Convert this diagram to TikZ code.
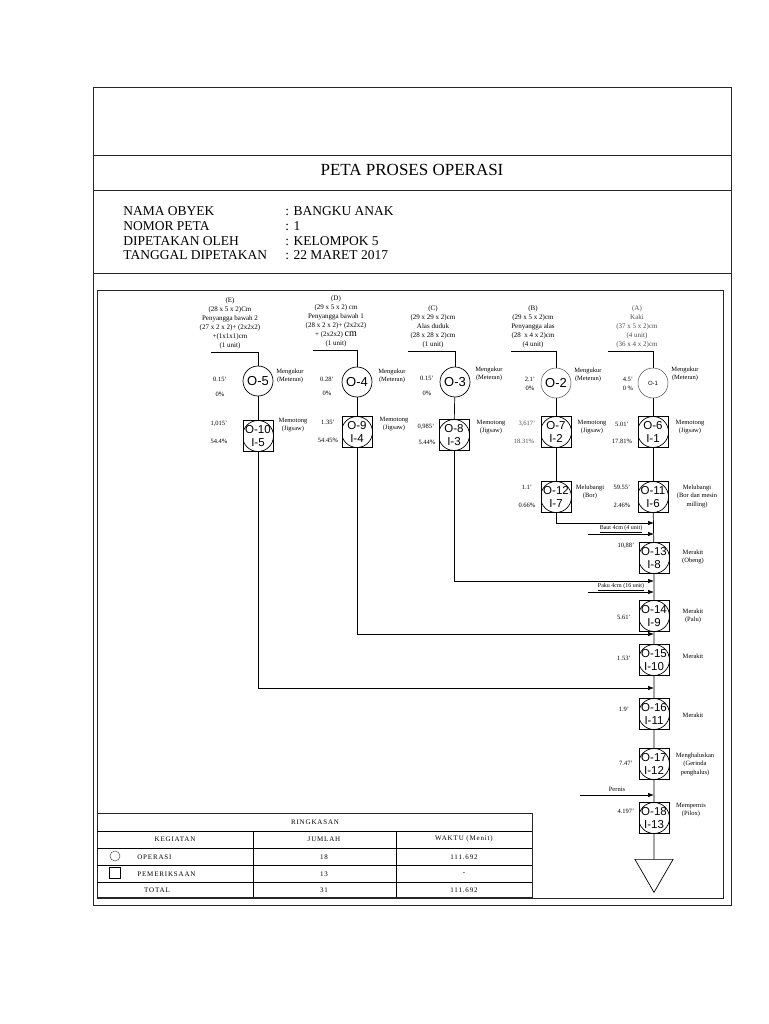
\documentclass[tikz,border=0pt]{standalone}
\usepackage{fontspec}
\setmainfont{Liberation Serif}
\newfontfamily\arialfont{Liberation Sans}
\usetikzlibrary{arrows.meta, positioning, shapes.geometric}

\tikzset{
  frame/.style={line width=0.9pt, black!85},
  opc/.style={circle, draw, minimum size=30pt, inner sep=0pt, font=\arialfont\fontsize{13}{13}\selectfont},
  opbox/.style={rectangle, draw, minimum width=30pt, minimum height=31pt, inner sep=0pt, align=center,
    font=\arialfont\fontsize{11.5}{13}\selectfont,
    path picture={\draw (path picture bounding box.center) circle (15.5pt);}},
  lbl/.style={font=\fontsize{6.5}{8.5}\selectfont, align=center, inner sep=0pt},
  colhead/.style={font=\fontsize{7}{9}\selectfont, align=center, inner sep=0pt},
  headtxt/.style={font=\fontsize{13.5}{15}\selectfont, inner sep=0pt},
  tbl/.style={font=\fontsize{7}{8}\selectfont\addfontfeature{LetterSpace=12}, inner sep=0pt},
  flow/.style={-{Latex[length=6pt,width=4.5pt]}},
  store/.style={draw, regular polygon, regular polygon sides=3, shape border rotate=180, minimum size=44pt, inner sep=0pt},
}

\begin{document}
\begin{tikzpicture}[x=1pt, y=-1pt, line width=0.7pt]
  \useasboundingbox (0,0) rectangle (768,1024);
  % bingkai
  \draw[frame] (93,87) rectangle (731,905);
  \draw[frame] (93,155) -- (731,155);
  \draw[frame] (93,190) -- (731,190);
  \draw[frame] (93,273) -- (731,273);
  \draw[frame] (97,290) rectangle (723,898);

  % judul dan identitas peta
  \node[font=\fontsize{17}{19}\selectfont] (judul) at (412,170) {PETA PROSES OPERASI};
  \node[headtxt, anchor=base west] (k1) at (123,215) {NAMA OBYEK};
  \node[headtxt, anchor=base west] (k2) at (123,230) {NOMOR PETA};
  \node[headtxt, anchor=base west] (k3) at (123,245) {DIPETAKAN OLEH};
  \node[headtxt, anchor=base west] (k4) at (123,259) {TANGGAL DIPETAKAN};
  \node[headtxt, anchor=base west] (v1) at (285,215) {: BANGKU ANAK};
  \node[headtxt, anchor=base west] (v2) at (285,230) {: 1};
  \node[headtxt, anchor=base west] (v3) at (285,245) {: KELOMPOK 5};
  \node[headtxt, anchor=base west] (v4) at (285,259) {: 22 MARET 2017};

  % keterangan bahan
  \node[colhead, anchor=south] (hE) at (230,349) {(E)\\(28 x 5 x 2)Cm\\Penyangga bawah 2\\(27 x 2 x 2)+ (2x2x2)\\+(1x1x1)cm\\(1 unit)};
  \node[colhead, anchor=south] (hD) at (336,347) {(D)\\(29 x 5 x 2) cm\\Penyangga bawah 1\\(28 x 2 x 2)+ (2x2x2)\\+ (2x2x2) {\fontsize{10}{9}\selectfont cm}\\(1 unit)};
  \node[colhead, anchor=south] (hC) at (433,348) {(C)\\(29 x 29 x 2)cm\\Alas duduk\\(28 x 28 x 2)cm\\(1 unit)};
  \node[colhead, anchor=south] (hB) at (533,348) {(B)\\(29 x 5 x 2)cm\\Penyangga alas\\(28\enspace x 4 x 2)cm\\(4 unit)};
  \node[colhead, anchor=south, black!70] (hA) at (637,348) {(A)\\Kaki\\(37 x 5 x 2)cm\\(4 unit)\\(36 x 4 x 2)cm};
  \coordinate (eS) at (211,352);
  \coordinate (dS) at (313,350);
  \coordinate (cS) at (408,351);
  \coordinate (bS) at (511,351);
  \coordinate (aS) at (608,351);

  % operasi mengukur
  \node[opc] (o5) at (258,381) {O-5};
  \node[opc] (o4) at (357,382) {O-4};
  \node[opc] (o3) at (455,382) {O-3};
  \node[opc, draw=black!70, line width=0.5pt] (o2) at (556,383) {O-2};
  \node[opc, draw=black!70, line width=0.5pt, font=\arialfont\fontsize{6}{6}\selectfont] (o1) at (653,383) {O-1};
  \draw (eS) -| (o5);
  \draw (dS) -| (o4);
  \draw (cS) -| (o3);
  \draw (bS) -| (o2);
  \draw (aS) -| (o1);

  \node[lbl] (w5) at (220,379) {0.15'};  \node[lbl] (p5) at (220,394) {0\%};
  \node[lbl] (w4) at (327,379) {0.28'};  \node[lbl] (p4) at (327,393) {0\%};
  \node[lbl] (w3) at (427,378) {0.15'};  \node[lbl] (p3) at (427,393) {0\%};
  \node[lbl] (w2) at (530,384) {2.1'\\0\%};
  \node[lbl] (w1) at (628,384) {4.5'\\0 \%};
  \node[lbl] (m5) at (290,376) {Mengukur\\(Meteran)};
  \node[lbl] (m4) at (392,376) {Mengukur\\(Meteran)};
  \node[lbl] (m3) at (489,374) {Mengukur\\(Meteran)};
  \node[lbl] (m2) at (588,375) {Mengukur\\(Meteran)};
  \node[lbl] (m1) at (685,374) {Mengukur\\(Meteran)};

  % operasi memotong
  \node[opbox] (o10) at (258,436) {O-10\\I-5};
  \node[opbox] (o9) at (357,432) {O-9\\I-4};
  \node[opbox] (o8) at (454,435) {O-8\\I-3};
  \node[opbox] (o7) at (556,432) {O-7\\I-2};
  \node[opbox] (o6) at (653,432) {O-6\\I-1};
  \draw (o5) -- (o10);
  \draw (o4) -- (o9);
  \draw (o3) -- (o8);
  \draw (o2) -- (o7);
  \draw (o1) -- (o6);

  \node[lbl] (w10) at (219,424) {1,015'};  \node[lbl] (p10) at (219,441) {54.4\%};
  \node[lbl] (w9) at (328,422) {1.35'};    \node[lbl] (p9) at (328,440) {54.45\%};
  \node[lbl] (w8) at (426,427) {0,985'};   \node[lbl] (p8) at (427,442) {5.44\%};
  \node[lbl, black!70] (w7) at (527,424) {3,617'};  \node[lbl, black!70] (p7) at (524,441) {18.31\%};
  \node[lbl] (w6) at (622,424) {5.01'};    \node[lbl] (p6) at (622,441) {17.81\%};
  \node[lbl] (t10) at (293,425) {Memotong\\(Jigsaw)};
  \node[lbl] (t9) at (394,424) {Memotong\\(Jigsaw)};
  \node[lbl] (t8) at (491,427) {Memotong\\(Jigsaw)};
  \node[lbl] (t7) at (592,427) {Memotong\\(Jigsaw)};
  \node[lbl] (t6) at (690,427) {Memotong\\(Jigsaw)};

  % operasi melubangi
  \node[opbox] (o12) at (556,497) {O-12\\I-7};
  \node[opbox] (o11) at (653,497) {O-11\\I-6};
  \draw (o7) -- (o12);
  \draw (o6) -- (o11);
  \node[lbl] (w12) at (527,487) {1.1'};   \node[lbl] (p12) at (527,505) {0.66\%};
  \node[lbl] (w11) at (622,487) {59.55'}; \node[lbl] (p11) at (622,505) {2.46\%};
  \node[lbl] (t12) at (590,492) {Melubangi\\(Bor)};
  \node[lbl] (t11) at (697,496) {Melubangi\\(Bor dan mesin\\milling)};

  % perakitan
  \node[opbox] (o13) at (654,558) {O-13\\I-8};
  \node[opbox] (o14) at (654,616) {O-14\\I-9};
  \node[opbox] (o15) at (654,660) {O-15\\I-10};
  \node[opbox] (o16) at (654,714) {O-16\\I-11};
  \node[opbox] (o17) at (654,764) {O-17\\I-12};
  \node[opbox] (o18) at (654,818) {O-18\\I-13};
  \node[store, anchor=north] (simpan) at (654,859) {};
  \draw (o11) -- (o13) -- (o14) -- (o15) -- (o16) -- (o17) -- (o18) -- (simpan);

  \node[lbl] (w13) at (626,546) {10,88'};
  \node[lbl] (w14) at (624,617) {5.61'};
  \node[lbl] (w15) at (624,658) {1.53'};
  \node[lbl] (w16) at (624,709) {1.9'};
  \node[lbl] (w17) at (626,763) {7.47'};
  \node[lbl] (w18) at (626,811) {4.197'};
  \node[lbl] (t13) at (693,557) {Merakit\\(Obeng)};
  \node[lbl] (t14) at (693,616) {Merakit\\(Palu)};
  \node[lbl] (t15) at (693,656) {Merakit};
  \node[lbl] (t16) at (693,715) {Merakit};
  \node[lbl] (t17) at (695,764) {Menghaluskan\\(Gerinda\\penghalus)};
  \node[lbl] (t18) at (691,810) {Mempernis\\(Pilox)};

  % aliran masuk
  \coordinate (jB) at (654,523);
  \coordinate (jC) at (654,581);
  \coordinate (jD) at (654,634);
  \coordinate (jE) at (654,688);
  \draw[flow] (o12) |- (jB);
  \draw[flow] (o8) |- (jC);
  \draw[flow] (o9) |- (jD);
  \draw[flow] (o10) |- (jE);

  \coordinate (bautS) at (588,534);  \coordinate (bautE) at (654,534);
  \coordinate (pakuS) at (588,592);  \coordinate (pakuE) at (654,592);
  \coordinate (pernisS) at (580,795); \coordinate (pernisE) at (654,795);
  \draw[flow] (bautS) -- node[lbl, font=\fontsize{6}{7}\selectfont, above=0.8pt] (baut) {\underline{Baut 4cm (4 unit)}} (bautE);
  \draw[flow] (pakuS) -- node[lbl, font=\fontsize{6}{7}\selectfont, above=0.8pt] (paku) {\underline{Paku 4cm (16 unit)}} (pakuE);
  \draw[flow] (pernisS) -- node[lbl, above=3pt] (pernis) {Pernis} (pernisE);

  % ringkasan
  \draw[frame] (97,813) rectangle (532,897);
  \draw (97,831) -- (532,831);
  \draw (97,848) -- (532,848);
  \draw (97,865) -- (532,865);
  \draw (97,882) -- (532,882);
  \draw (253,831) -- (253,897);
  \draw (396,831) -- (396,897);
  \node[tbl] (r0) at (315,822) {RINGKASAN};
  \node[tbl] (r1) at (175,839) {KEGIATAN};
  \node[tbl] (r2) at (324,839) {JUMLAH};
  \node[tbl] (r3) at (464,839) {WAKTU (Menit)};
  \node[circle, draw=black!70, line width=0.5pt, minimum size=10pt, inner sep=0pt] (sO) at (115,856) {};
  \node[tbl, anchor=west] (r4) at (137,857) {OPERASI};
  \node[tbl] (r5) at (324,857) {18};
  \node[tbl] (r6) at (464,857) {111.692};
  \node[draw, minimum size=11pt, inner sep=0pt] (sP) at (115,873) {};
  \node[tbl, anchor=west] (r7) at (137,874) {PEMERIKSAAN};
  \node[tbl] (r8) at (324,874) {13};
  \node[tbl] (r9) at (464,874) {-};
  \node[tbl] (r10) at (157,890) {TOTAL};
  \node[tbl] (r11) at (324,890) {31};
  \node[tbl] (r12) at (464,890) {111.692};
\end{tikzpicture}
\end{document}
